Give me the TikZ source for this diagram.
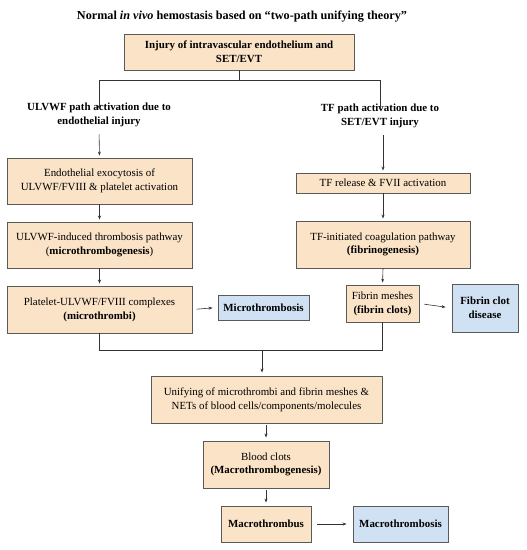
\documentclass[tikz,border=0pt]{standalone}
\usepackage{fontspec}
\setmainfont{Liberation Serif}
\usetikzlibrary{arrows.meta,calc}
\definecolor{peach}{HTML}{FBE3C7}
\definecolor{lblue}{HTML}{CFE1F2}
\definecolor{edge}{HTML}{5A5A5A}
\definecolor{ln}{HTML}{333333}
\tikzset{
  box/.style={draw=edge,line width=0.9pt,fill=peach,align=center,inner sep=2pt,
    font=\fontsize{10.9}{13.8}\selectfont},
  bbox/.style={box,fill=lblue},
  bf/.style={font=\fontsize{10.9}{13.8}\selectfont\bfseries},
  lbl/.style={align=center,inner sep=1pt,bf},
  arr/.style={draw=ln,line width=0.6pt,-{Stealth[length=4pt,width=3pt]}},
  ln/.style={draw=ln,line width=0.6pt}
}
\begin{document}
\begin{tikzpicture}[x=1pt,y=-1pt]
\useasboundingbox (0,0) rectangle (527,550);
\node[lbl,font=\fontsize{12.2}{14}\selectfont\bfseries] (title) at (242,17) {Normal \textit{in vivo} hemostasis based on “two-path unifying theory”};
\node[box,bf,minimum width=230pt,minimum height=36pt] (top) at (239,52) {Injury of intravascular endothelium and\\SET/EVT};
\node[lbl] (l1) at (99,115) {ULVWF path activation due to\\endothelial injury};
\node[lbl] (l2) at (380,116) {TF path activation due to\\SET/EVT injury};
\node[box,minimum width=185pt,minimum height=46pt] (b1) at (99.5,181) {Endothelial exocytosis of\\ULVWF/FVIII \& platelet activation};
\node[box,minimum width=185pt,minimum height=46pt] (b2) at (99.5,245) {ULVWF-induced thrombosis pathway\\(\textbf{microthrombogenesis})};
\node[box,minimum width=185pt,minimum height=47pt] (b3) at (99.5,309.5) {Platelet-ULVWF/FVIII complexes\\\textbf{(microthrombi)}};
\node[bbox,bf,minimum width=91pt,minimum height=25pt] (micro) at (263.5,307.5) {Microthrombosis};
\node[box,minimum width=174pt,minimum height=20pt] (r1) at (383,183) {TF release \& FVII activation};
\node[box,minimum width=174pt,minimum height=47pt] (r2) at (383,244.5) {TF-initiated coagulation pathway\\\textbf{(fibrinogenesis)}};
\node[box,minimum width=73pt,minimum height=37pt] (r3) at (382.5,303.5) {Fibrin meshes\\\textbf{(fibrin clots)}};
\node[bbox,bf,minimum width=66pt,minimum height=48pt] (fcd) at (485,308) {Fibrin clot\\disease};
\node[box,minimum width=231pt,minimum height=47pt] (uni) at (266.5,399.5) {Unifying of microthrombi and fibrin meshes \&\\NETs of blood cells/components/molecules};
\node[box,minimum width=126pt,minimum height=47pt] (blood) at (266,464.5) {Blood clots\\\textbf{(Macrothrombogenesis)}};
\node[box,bf,minimum width=90pt,minimum height=36pt] (macro) at (266,524) {Macrothrombus};
\node[bbox,bf,minimum width=95pt,minimum height=36pt] (macs) at (400.5,524) {Macrothrombosis};
% connectors
\coordinate (tj) at (239,80);
\coordinate (mj) at (262,350);
\draw[ln] (top.south) -- (tj);
\draw[arr] (tj) -| ([yshift=-7pt]l1.north);
\draw[arr] (tj) -| ([yshift=-7pt]l2.north);
\draw[arr,shorten <=6pt,shorten >=2pt] (l1.south) -- (b1.north);
\draw[arr,shorten <=6pt,shorten >=2pt] (r1.north |- l2.south) -- (r1.north);
\draw[arr,shorten >=2pt] (b1.south) -- (b2.north);
\draw[arr,shorten >=2pt] (b2.south) -- (b3.north);
\draw[arr,shorten >=2pt] (r1.south) -- (r2.north);
\draw[arr,shorten >=2pt] (r2.south) -- (r3.north);
\draw[arr,shorten <=4pt,shorten >=5pt] (b3.east) -- (micro.west);
\draw[arr,shorten <=5pt,shorten >=6pt] (r3.east) -- (fcd.west);
\draw[ln] (b3.south) |- (r3.south |- mj) -- (r3.south);
\draw[arr,shorten >=3pt] (mj) -- (mj |- uni.north);
\draw[arr,shorten <=2pt,shorten >=3pt] (uni.south -| blood.north) -- (blood.north);
\draw[arr,shorten <=2pt,shorten >=3pt] (blood.south) -- (macro.north);
\draw[arr,shorten <=6pt,shorten >=6pt] (macro.east) -- (macs.west);
\end{tikzpicture}
\end{document}
